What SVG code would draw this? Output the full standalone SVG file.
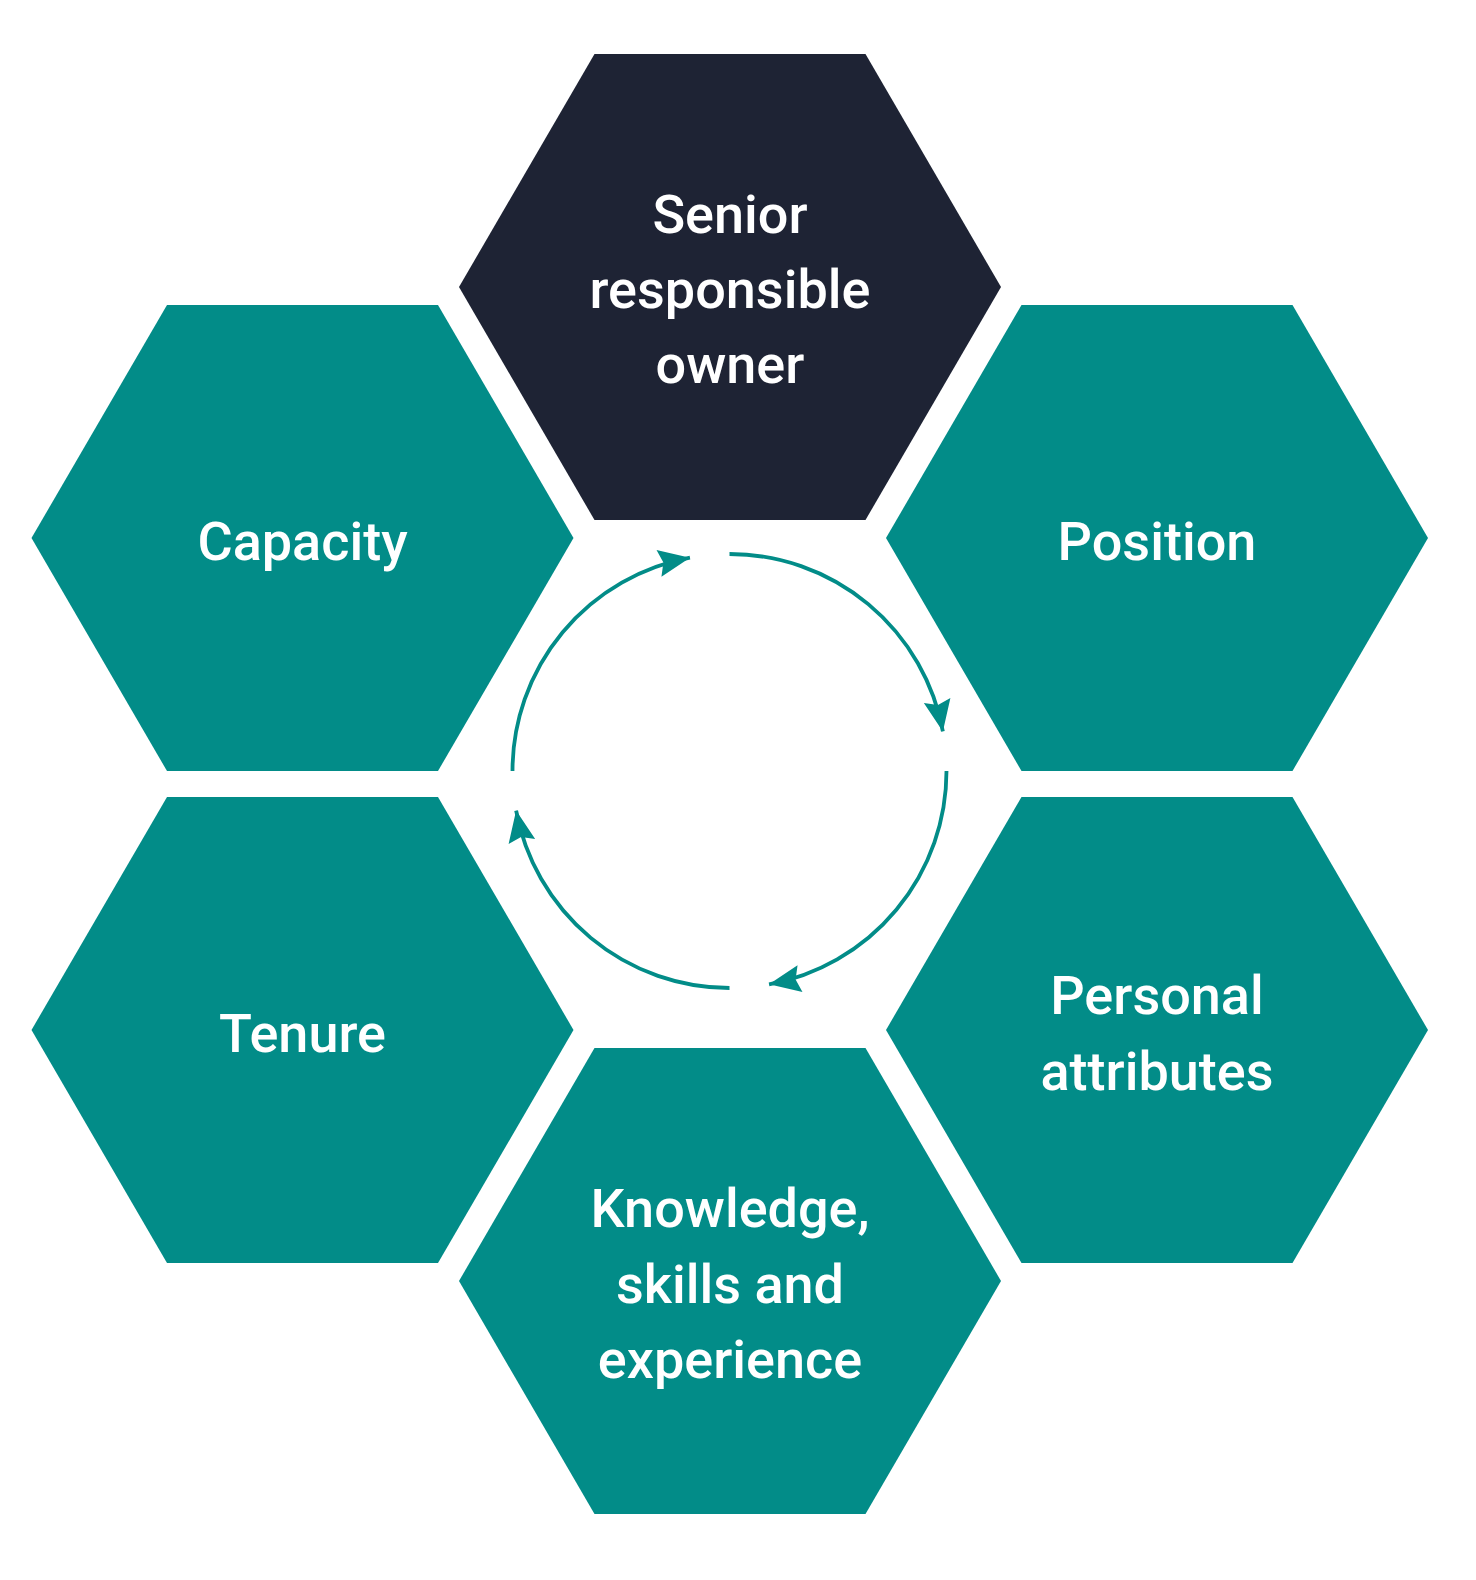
<svg xmlns="http://www.w3.org/2000/svg" width="1476" height="1580" viewBox="0 0 1476 1580">
  <style>
    .hex-teal { fill: #028C88; }
    .hex-dark { fill: #1E2334; }
    .label { font-family: Roboto, "Liberation Sans", sans-serif; font-weight: 500; font-size: 54px; fill: #FFFFFF; text-anchor: middle; }
    .cycle { fill: none; stroke: #028C88; stroke-width: 3.8; marker-end: url(#arrow); }
  </style>
  <defs>
    <polygon id="hex" points="-271,0 -135.5,-233 135.5,-233 271,0 135.5,233 -135.5,233"/>
    <marker id="arrow" viewBox="-33 -15 35 30" markerWidth="35" markerHeight="30" refX="0" refY="0" markerUnits="userSpaceOnUse" orient="auto">
      <path d="M0,0 L-31.5,-13.5 L-27,0 L-31.5,13.5 Z" fill="#028C88"/>
    </marker>
  </defs>
  <rect x="0" y="0" width="1476" height="1580" fill="#FFFFFF"/>

  <g id="node-senior">
    <use href="#hex" class="hex-dark" x="730" y="287"/>
    <text class="label" x="730" y="233">Senior</text>
    <text class="label" x="730" y="308">responsible</text>
    <text class="label" x="730" y="383">owner</text>
  </g>
  <g id="node-capacity">
    <use href="#hex" class="hex-teal" x="302.5" y="538"/>
    <text class="label" x="302.5" y="559.5">Capacity</text>
  </g>
  <g id="node-position">
    <use href="#hex" class="hex-teal" x="1157" y="538"/>
    <text class="label" x="1157" y="560">Position</text>
  </g>
  <g id="node-tenure">
    <use href="#hex" class="hex-teal" x="302.5" y="1030"/>
    <text class="label" x="302.5" y="1051.5">Tenure</text>
  </g>
  <g id="node-personal">
    <use href="#hex" class="hex-teal" x="1157" y="1030"/>
    <text class="label" x="1157" y="1014">Personal</text>
    <text class="label" x="1157" y="1090">attributes</text>
  </g>
  <g id="node-knowledge">
    <use href="#hex" class="hex-teal" x="730" y="1281"/>
    <text class="label" x="730" y="1227">Knowledge,</text>
    <text class="label" x="730" y="1302.5">skills and</text>
    <text class="label" x="730" y="1378">experience</text>
  </g>

  <g id="connectors">
    <path class="cycle" d="M729.5,554 A217,217 0 0 1 942.87,731.45"/>
    <path class="cycle" d="M946.5,771 A217,217 0 0 1 769.05,984.37"/>
    <path class="cycle" d="M729.5,988 A217,217 0 0 1 516.13,810.55"/>
    <path class="cycle" d="M512.5,771 A217,217 0 0 1 689.95,557.63"/>
  </g>
</svg>
